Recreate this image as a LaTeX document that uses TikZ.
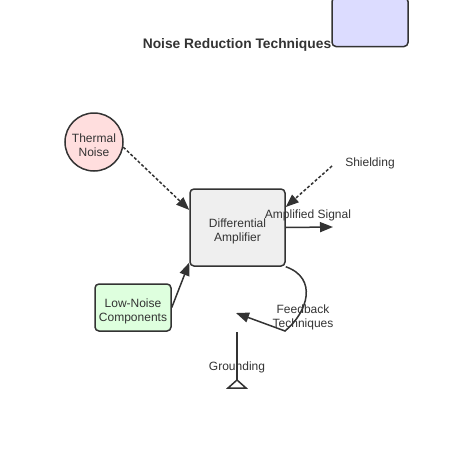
\documentclass[tikz,border=0pt]{standalone}
\usepackage{fontspec}
\setmainfont{Liberation Sans}
\usepackage{tikz}
\usetikzlibrary{arrows.meta}
\definecolor{ink}{HTML}{333333}
\definecolor{lavender}{HTML}{DCDCFF}
\definecolor{rosy}{HTML}{FFDEDE}
\definecolor{ampgray}{HTML}{EFEFEF}
\definecolor{mint}{HTML}{DEFFDE}
\tikzstyle{edge}=[>={Triangle[length=13pt, width=10pt]},
                  line width=1.5pt, draw=ink]
\tikzstyle{dots}=[dash pattern=on 3pt off 2pt]
\tikzstyle{box}=[rectangle, rounded corners=4pt, draw=ink,
                 line width=1.5pt, align=center, text=ink,
                 inner sep=0pt, text height=30pt,
                 font=\fontsize{12}{14}\selectfont]
\tikzstyle{tag}=[text=ink, align=center, inner sep=1pt,
                 font=\fontsize{12}{14}\selectfont]

\begin{document}
\begin{tikzpicture}[x=1pt, y=-1pt]
   \useasboundingbox (0,0) rectangle (474,474);
   \node (title) at (237,45) [text=ink, font=\fontsize{13.8}{16}\bfseries\selectfont]
        {Noise Reduction Techniques};
   \node (legend) at (370,22) [box, fill=lavender,
        minimum width=76pt, minimum height=49pt] {};
   \node (thermal) at (94,142) [box, circle, fill=rosy,
        minimum size=58pt] {Thermal\\Noise};
   \node (amp) at (237.5,227.5) [box, fill=ampgray,
        minimum width=95pt, minimum height=77pt] {Differential\\Amplifier};
   \node (lownoise) at (133,307.5) [box, fill=mint,
        minimum width=76pt, minimum height=47pt] {Low-Noise\\Components};

   \coordinate (shieldtip) at (332,166);
   \coordinate (sigtip) at (333,227);
   \coordinate (fbturn) at (285,331);
   \coordinate (fbtip) at (236,313);
   \coordinate (gtop) at (237,332);
   \coordinate (gbot) at (237,380);

   \draw [edge, ->, dots] (thermal.-10) to (amp.160);
   \draw [edge, ->, dots] (shieldtip) to (amp.23);
   \draw [edge, ->] (lownoise.east) to (amp.216);
   \draw [edge, ->] (amp.east) to (sigtip);
   \draw [edge, ->] (amp.south east) .. controls (318,278) and (308,312)
        .. (fbturn) -- (fbtip);
   \draw [edge] (gtop) -- (gbot);
   \draw [edge] (gbot) -- (228,388) -- (246,388) -- cycle;

   \node (shield) at (370,163) [tag] {Shielding};
   \node (siglabel) at (308,215) [tag] {Amplified Signal};
   \node (fblabel) at (303,317) [tag] {Feedback\\Techniques};
   \node (ground) at (237,367) [tag] {Grounding};
\end{tikzpicture}
\end{document}
